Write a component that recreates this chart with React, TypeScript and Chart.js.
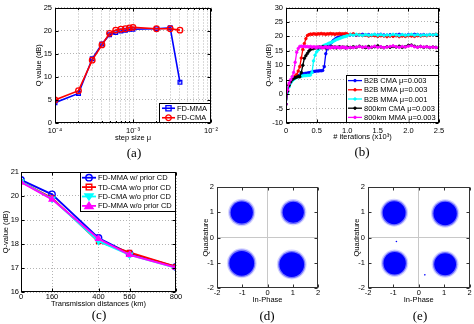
import React, { useEffect, useRef } from 'react';
import { Chart, registerables } from 'chart.js';

// ---------------- (a) Q value vs step size ----------------
const A_STEP = [0.0001, 0.0002, 0.0003, 0.0004, 0.0005, 0.0006, 0.0007, 0.0008, 0.0009, 0.001, 0.002, 0.003, 0.004];
const A_FD_MMA = [4.4, 6.4, 13.9, 17.1, 19.1, 19.6, 19.9, 20.1, 20.3, 20.3, 20.4, 20.6, 8.8];
const A_FD_CMA = [5.0, 7.0, 13.6, 16.9, 19.4, 20.1, 20.3, 20.4, 20.6, 20.7, 20.4, 20.4, 20.1];
const A_X_GRID = [0.0001, 0.0002, 0.0003, 0.0004, 0.0005, 0.0006, 0.0007, 0.0008, 0.0009,
  0.001, 0.002, 0.003, 0.004, 0.005, 0.006, 0.007, 0.008, 0.009, 0.01];
const A_X_LABELS = ['10⁻⁴', '', '', '', '', '', '', '', '', '10⁻³', '', '', '', '', '', '', '', '', '10⁻²'];

// ---------------- (b) Q value vs iterations ----------------
const B_ITER = [0, 0.025, 0.05, 0.075, 0.1, 0.125, 0.15, 0.175, 0.2, 0.225,
  0.25, 0.275, 0.3, 0.325, 0.35, 0.375, 0.4, 0.425, 0.45, 0.475,
  0.5, 0.525, 0.55, 0.575, 0.6, 0.625, 0.65, 0.675, 0.7, 0.725,
  0.75, 0.775, 0.8, 0.825, 0.85, 0.875, 0.9, 0.925, 0.95, 0.975,
  1.0,
  1.05, 1.1, 1.15, 1.2, 1.25, 1.3, 1.35, 1.4, 1.45, 1.5,
  1.55, 1.6, 1.65, 1.7, 1.75, 1.8, 1.85, 1.9, 1.95, 2.0,
  2.05, 2.1, 2.15, 2.2, 2.25, 2.3, 2.35, 2.4, 2.45, 2.5];
const B_B2B_CMA_003 = [-3.5, 1.0, 3.0, 4.2, 5.0, 5.5, 5.9, 6.2, 6.4, 6.6,
  6.8, 7.0, 7.1, 7.2, 7.3, 7.4, 7.5, 7.6, 7.8, 7.9,
  8.0, 8.0, 8.1, 8.1, 8.2, 9.5, 14.0, 15.8, 16.8, 17.5,
  18.0, 18.6, 19.0, 19.4, 19.6, 19.8, 20.0, 20.1, 20.3, 20.3,
  20.4,
  20.5, 20.6, 20.4, 20.5, 20.7, 20.5, 20.6, 20.4, 20.6, 20.5,
  20.7, 20.5, 20.4, 20.6, 20.5, 20.6, 20.7, 20.5, 20.4, 20.6,
  20.5, 20.7, 20.6, 20.5, 20.6, 20.4, 20.6, 20.5, 20.6, 20.5];
const B_B2B_MMA_003 = [-3.5, 1.2, 3.2, 4.5, 5.2, 5.8, 6.3, 6.8, 8.0, 9.5,
  12.5, 15.5, 17.5, 19.2, 20.3, 20.6, 20.8, 20.7, 20.9, 20.8,
  20.7, 20.9, 20.8, 21.0, 20.8, 20.9, 20.7, 20.9, 20.8, 21.0,
  20.8, 20.9, 20.7, 20.9, 20.8, 21.0, 20.8, 20.9, 20.8, 21.0,
  20.8,
  20.7, 20.9, 20.5, 20.6, 20.3, 20.4, 20.1, 20.3, 20.2, 20.0,
  20.2, 20.1, 19.9, 20.1, 20.0, 20.2, 19.9, 20.1, 20.0, 20.2,
  20.1, 20.0, 20.2, 20.1, 20.3, 20.2, 20.4, 20.5, 20.7, 20.9];
const B_B2B_MMA_001 = [-3.5, 0.5, 2.5, 3.8, 4.6, 5.1, 5.5, 5.8, 6.0, 6.1,
  6.2, 6.3, 6.4, 6.4, 6.5, 6.5, 6.6, 7.5, 11.5, 13.5,
  14.6, 15.3, 15.9, 16.3, 16.6, 16.9, 17.1, 17.3, 17.6, 17.8,
  18.0, 18.3, 18.6, 18.9, 19.1, 19.3, 19.5, 19.7, 19.9, 20.0,
  20.2,
  20.6, 20.4, 20.7, 20.5, 20.3, 20.6, 20.4, 20.5, 20.7, 20.4,
  20.6, 20.3, 20.5, 20.4, 20.7, 20.5, 20.3, 20.6, 20.4, 20.5,
  20.7, 20.4, 20.6, 20.3, 20.5, 20.4, 20.6, 20.5, 20.7, 20.6];
const B_800_CMA_003 = [-3.5, 1.0, 3.0, 4.2, 5.0, 5.4, 5.7, 5.9, 6.1, 6.0,
  7.5, 10.0, 12.4, 13.3, 14.1, 14.9, 15.5, 15.7, 15.9, 16.0,
  16.2, 16.0, 16.3, 16.1, 16.4, 16.2, 16.0, 16.3, 16.1, 16.2,
  16.4, 16.1, 16.3, 16.0, 16.2, 16.4, 16.1, 16.3, 16.2, 16.0,
  16.3,
  16.1, 16.4, 16.2, 16.6, 16.3, 16.1, 16.5, 16.2, 16.4, 16.7,
  16.3, 16.1, 16.4, 16.2, 16.5, 16.3, 16.6, 16.2, 16.4, 16.9,
  17.0, 16.6, 16.3, 16.5, 16.2, 16.4, 16.1, 16.3, 16.2, 16.0];
const B_800_MMA_003 = [-3.5, 1.5, 3.8, 5.0, 6.0, 7.5, 11.0, 14.5, 15.8, 16.5,
  16.6, 16.5, 16.6, 16.4, 16.5, 16.3, 16.5, 16.2, 16.4, 16.3,
  16.1, 16.4, 16.2, 16.3, 16.0, 16.2, 16.4, 16.1, 16.3, 16.0,
  16.2, 16.3, 16.1, 16.3, 16.2, 16.0, 16.2, 16.3, 16.1, 16.2,
  16.0,
  16.2, 16.1, 16.3, 16.5, 16.2, 16.4, 16.0, 16.3, 16.6, 16.2,
  16.4, 16.1, 16.3, 16.5, 16.7, 16.4, 16.2, 16.5, 16.3, 16.6,
  16.8, 16.4, 16.2, 16.5, 16.3, 16.4, 16.2, 16.3, 16.1, 16.2];
const B_LABELS = ['B2B CMA μ=0.003', 'B2B MMA μ=0.003', 'B2B MMA μ=0.001', '800km CMA μ=0.003', '800km MMA μ=0.003'];

// ---------------- (c) Q value vs distance ----------------
const C_DIST = [0, 160, 400, 560, 800];
const C_FD_MMA_CD = [20.67, 20.07, 18.25, 17.6, 17.05];
const C_TD_CMA_NOCD = [20.6, 19.92, 18.1, 17.65, 17.05];
const C_FD_CMA_NOCD = [20.6, 19.88, 18.12, 17.55, 17.0];
const C_FD_MMA_NOCD = [20.57, 19.86, 18.22, 17.55, 17.02];
const C_LABELS = ['FD-MMA w/ prior CD', 'TD-CMA w/o prior CD', 'FD-CMA w/o prior CD', 'FD-MMA w/o prior CD'];

// ---------------- (d), (e) constellations ----------------
const D_CX = [-1.02, 1.02, -1.02, 0.96];
const D_CY = [0.99, 1.0, -1.02, -1.07];
const D_SPREAD = [0.44, 0.42, 0.49, 0.49];
const E_CX = [-0.97, 1.04, -0.95, 1.04];
const E_CY = [0.98, 0.95, -1.02, -1.06];
const E_SPREAD = [0.45, 0.46, 0.44, 0.43];
const E_OUT_X = [0.24, -0.88];
const E_OUT_Y = [-1.48, -0.16];

// ---------------- styling ----------------
const SANS = "'Liberation Sans', Arial, Helvetica, sans-serif";
const SERIF = "'Liberation Serif', 'Times New Roman', serif";
const FS = 7.5;
const TICK_FONT = { family: SANS, size: FS };
const GRID_COLOR = '#b4b4b4';
const BLUE = '#0000ff', RED = '#ff0000', CYAN = '#00ffff', BLACK = '#000000', MAGENTA = '#ff00ff';

function drawMarker(ctx: CanvasRenderingContext2D, style: string, x: number, y: number, r: number,
  fill: string, stroke: string, lw: number, rot: number) {
  ctx.save();
  ctx.translate(x, y);
  ctx.rotate((rot || 0) * Math.PI / 180);
  ctx.beginPath();
  if (style === 'rect') {
    ctx.rect(-r, -r, 2 * r, 2 * r);
  } else if (style === 'triangle') {
    const h = r * 1.5;
    ctx.moveTo(0, -r * 1.1);
    ctx.lineTo(h * 0.85, r * 0.8);
    ctx.lineTo(-h * 0.85, r * 0.8);
    ctx.closePath();
  } else {
    ctx.arc(0, 0, r, 0, Math.PI * 2);
  }
  if (fill && fill !== 'transparent' && fill !== 'rgba(0,0,0,0)') { ctx.fillStyle = fill; ctx.fill(); }
  ctx.lineWidth = lw; ctx.strokeStyle = stroke; ctx.stroke();
  ctx.restore();
}

const framePlugin = {
  id: 'frame',
  afterDatasetsDraw(chart: any, _a: any, opts: any) {
    if (!opts || !opts.display) return;
    const { ctx, chartArea: a } = chart;
    const L = Math.round(a.left) + 0.5, T = Math.round(a.top) + 0.5;
    const R = Math.round(a.right) - 0.5, B = Math.round(a.bottom) - 0.5;
    ctx.save();
    ctx.strokeStyle = opts.color || '#000';
    ctx.lineWidth = 1;
    ctx.beginPath();
    const xs = chart.scales.x, ys = chart.scales.y;
    xs.ticks.forEach((t: any) => {
      const p = Math.round(xs.getPixelForValue(t.value)) + 0.5;
      const len = t.label ? 3 : 1.5;
      ctx.moveTo(p, B); ctx.lineTo(p, B - len);
      ctx.moveTo(p, T); ctx.lineTo(p, T + len);
    });
    ys.ticks.forEach((t: any) => {
      const p = Math.round(ys.getPixelForValue(t.value)) + 0.5;
      ctx.moveTo(L, p); ctx.lineTo(L + 3, p);
      ctx.moveTo(R, p); ctx.lineTo(R - 3, p);
    });
    ctx.stroke();
    ctx.strokeRect(L, T, R - L, B - T);
    ctx.restore();
  },
};

const insetLegend = {
  id: 'insetLegend',
  afterDraw(chart: any, _a: any, opts: any) {
    if (!opts || !opts.display) return;
    const { ctx, chartArea: a } = chart;
    ctx.save();
    ctx.font = `${FS}px ${SANS}`;
    const items = chart.data.datasets.filter((d: any) => d.label);
    const textW = Math.max(...items.map((d: any) => ctx.measureText(d.label).width));
    const w = Math.round(opts.padL + opts.lineLen + opts.gap + textW + opts.padR);
    const h = Math.round(opts.padY * 2 + items.length * opts.rowH);
    const x = Math.round(a.right) - w;
    const y = opts.corner === 'tr' ? Math.round(a.top) : Math.round(a.bottom) - h;
    ctx.fillStyle = '#fff';
    ctx.fillRect(x, y, w, h);
    ctx.strokeStyle = '#000';
    ctx.lineWidth = 1;
    ctx.strokeRect(x + 0.5, y + 0.5, w - 1, h - 1);
    items.forEach((d: any, i: number) => {
      const cy = y + opts.padY + (i + 0.5) * opts.rowH;
      const x0 = x + opts.padL, x1 = x0 + opts.lineLen;
      ctx.strokeStyle = d.borderColor;
      ctx.lineWidth = d.borderWidth;
      ctx.beginPath(); ctx.moveTo(x0, cy); ctx.lineTo(x1, cy); ctx.stroke();
      const r = typeof d.pointRadius === 'number' ? d.pointRadius : 2;
      drawMarker(ctx, d.pointStyle || 'circle', (x0 + x1) / 2, cy, r, d.pointBackgroundColor,
        d.pointBorderColor || d.borderColor, d.pointBorderWidth || 1, d.pointRotation || 0);
      ctx.fillStyle = '#000';
      ctx.textBaseline = 'middle';
      ctx.textAlign = 'left';
      ctx.fillText(d.label, x1 + opts.gap, cy + 0.5);
    });
    ctx.restore();
  },
};

Chart.register(...registerables, framePlugin, insetLegend);

function mkAxis(o: any) {
  const { size, title, titlePad, tickPad, grid, ticks, solid, ...rest } = o;
  return {
    ...rest,
    grid: { color: GRID_COLOR, lineWidth: 1, drawTicks: false, ...(grid || {}) },
    border: { display: false, dash: solid ? [] : [1, 2] },
    ticks: { font: TICK_FONT, color: '#000', padding: tickPad ?? 3, autoSkip: false, maxRotation: 0, minRotation: 0, ...(ticks || {}) },
    title: { display: true, text: title, font: TICK_FONT, color: '#000', padding: titlePad },
    afterFit: (s: any) => { if (s.isHorizontal()) s.height = size; else s.width = size; },
  };
}

function baseOptions(W: number, H: number, L: number, T: number, R: number, B: number,
  x: any, y: any, plugins: any) {
  return {
    responsive: false,
    animation: false,
    events: [],
    layout: { padding: { left: 0, top: T, right: W - R, bottom: 0 } },
    scales: { x: mkAxis({ ...x, size: H - B }), y: mkAxis({ ...y, size: L }) },
    plugins: { legend: { display: false }, tooltip: { enabled: false }, ...plugins },
  };
}

const pts = (xs: number[], ys: number[]) => xs.map((x, i) => ({ x, y: ys[i] }));

// ---------- panel (a) ----------
const A_W = 237, A_H = 146;
function configA(): any {
  const ds = (label: string, ys: number[], color: string, style: string, r: number, order: number) => ({
    label, data: pts(A_STEP, ys), borderColor: color, backgroundColor: color,
    pointBackgroundColor: 'rgba(0,0,0,0)', pointBorderColor: color, pointStyle: style,
    pointRadius: r, pointBorderWidth: 1.3, borderWidth: 1.6, order,
  });
  return {
    type: 'line',
    data: { datasets: [ds('FD-MMA', A_FD_MMA, BLUE, 'rect', 2.6, 1), ds('FD-CMA', A_FD_CMA, RED, 'circle', 2.8, 0)] },
    options: baseOptions(A_W, A_H, 55, 7, 211, 123,
      {
        type: 'logarithmic', min: 0.0001, max: 0.01, title: 'step size μ', titlePad: { bottom: 3.5 },
        afterBuildTicks: (s: any) => { s.ticks = A_X_GRID.map((v) => ({ value: v })); },
        ticks: { callback: (_v: any, i: number) => A_X_LABELS[i] },
      },
      { min: 0, max: 25, ticks: { stepSize: 5 }, title: 'Q value (dB)', titlePad: { top: 34.5 } },
      { frame: { display: true }, insetLegend: { display: true, corner: 'br', padL: 3, lineLen: 13, gap: 2, padR: 4, padY: 0.5, rowH: 9.5 } }),
  };
}

// ---------- panel (b) ----------
const B_W = 234, B_H = 146;
function configB(): any {
  const series = [B_B2B_CMA_003, B_B2B_MMA_003, B_B2B_MMA_001, B_800_CMA_003, B_800_MMA_003];
  const colors = [BLUE, RED, CYAN, BLACK, MAGENTA];
  return {
    type: 'line',
    data: {
      datasets: series.map((ys, i) => ({
        label: B_LABELS[i], data: pts(B_ITER, ys), borderColor: colors[i], backgroundColor: colors[i],
        pointBackgroundColor: colors[i], pointBorderColor: colors[i], pointStyle: 'circle',
        pointRadius: 1.3, pointBorderWidth: 0.8, borderWidth: 1.3, order: series.length - i,
      })),
    },
    options: baseOptions(B_W, B_H, 46, 6, 199, 123,
      { type: 'linear', min: 0, max: 2.5, ticks: { stepSize: 0.5 }, title: '# iterations (x10³)', titlePad: { bottom: 4.5 } },
      { min: -10, max: 30, ticks: { stepSize: 5 }, title: 'Q-value (dB)', titlePad: { top: 24.5 } },
      { frame: { display: true }, insetLegend: { display: true, corner: 'br', padL: 2, lineLen: 14, gap: 2, padR: 3, padY: 1, rowH: 9.2 } }),
  };
}

// ---------- panel (c) ----------
const C_W = 190, C_H = 150;
function configC(): any {
  const series = [C_FD_MMA_CD, C_TD_CMA_NOCD, C_FD_CMA_NOCD, C_FD_MMA_NOCD];
  const colors = [BLUE, RED, CYAN, MAGENTA];
  const styles = ['circle', 'rect', 'triangle', 'triangle'];
  const rots = [0, 0, 180, 0];
  const fills = ['rgba(0,0,0,0)', 'rgba(0,0,0,0)', CYAN, MAGENTA];
  const radii = [3.2, 2.8, 3.2, 3.2];
  return {
    type: 'line',
    data: {
      datasets: series.map((ys, i) => ({
        label: C_LABELS[i], data: pts(C_DIST, ys), borderColor: colors[i], backgroundColor: colors[i],
        pointBackgroundColor: fills[i], pointBorderColor: colors[i], pointStyle: styles[i], pointRotation: rots[i],
        pointRadius: radii[i], pointBorderWidth: 1.4, borderWidth: 1.8, order: series.length - i,
      })),
    },
    options: baseOptions(C_W, C_H, 21, 12, 176, 132,
      {
        type: 'linear', min: 0, max: 800, title: 'Transmission distances (km)', titlePad: { bottom: 2 }, tickPad: 0.5,
        afterBuildTicks: (s: any) => { s.ticks = C_DIST.map((v) => ({ value: v })); },
      },
      { min: 16, max: 21, ticks: { stepSize: 1 }, title: 'Q-value (dB)', titlePad: { top: 1 }, tickPad: 2 },
      { frame: { display: true }, insetLegend: { display: true, corner: 'tr', padL: 2, lineLen: 14, gap: 2, padR: 4, padY: 1, rowH: 9.4 } }),
  };
}

// ---------- panels (d), (e) ----------
const radiusFrom = (spread: number[], extra: number) => (c: any) => {
  const s = c.chart.scales.x;
  if (!s) return 0;
  const v = (spread[c.dataIndex ?? 0] ?? spread[0]) + extra;
  return Math.abs(s.getPixelForValue(v) - s.getPixelForValue(0));
};

function configConst(cx: number[], cy: number[], spread: number[], ox: number[], oy: number[],
  W: number, L: number, R: number, ytitlePad: number): any {
  const zeroGrid = (c: any) => (c.tick && c.tick.value === 0 ? '#c8c8c8' : 'rgba(0,0,0,0)');
  return {
    type: 'scatter',
    data: {
      datasets: [
        { data: pts(cx, cy), pointRadius: radiusFrom(spread, 0), pointBackgroundColor: '#0000ff', pointBorderWidth: 0, pointBorderColor: '#0000ff', order: 0 },
        { data: pts(cx, cy), pointRadius: radiusFrom(spread, 0.05), pointBackgroundColor: 'rgba(20,20,255,0.5)', pointBorderWidth: 0, pointBorderColor: 'rgba(0,0,0,0)', order: 1 },
        { data: pts(cx, cy), pointRadius: radiusFrom(spread, 0.1), pointBackgroundColor: 'rgba(40,40,255,0.2)', pointBorderWidth: 0, pointBorderColor: 'rgba(0,0,0,0)', order: 2 },
        { data: pts(ox, oy), pointRadius: 0.8, pointBackgroundColor: '#0000ff', pointBorderWidth: 0, order: 0 },
      ],
    },
    options: baseOptions(W, 130, L, 12, R, 113,
      { type: 'linear', min: -2, max: 2, ticks: { stepSize: 1 }, grid: { color: zeroGrid }, solid: true, title: 'In-Phase', titlePad: { bottom: 0.5 }, tickPad: 0.5 },
      { type: 'linear', min: -2, max: 2, ticks: { stepSize: 1 }, grid: { color: zeroGrid }, solid: true, title: 'Quadrature', titlePad: { top: ytitlePad } },
      { frame: { display: true, color: '#333' } }),
  };
}

function ChartBox({ left, top, width, height, build }: any) {
  const ref = useRef<HTMLCanvasElement>(null);
  useEffect(() => {
    const chart = new Chart(ref.current as HTMLCanvasElement, build());
    return () => chart.destroy();
  }, []);
  return (
    <canvas ref={ref} width={width} height={height}
      style={{ position: 'absolute', left, top, width, height, display: 'block' }} />
  );
}

function Caption({ x, y, text }: any) {
  return (
    <div style={{
      position: 'absolute', left: x, top: y, transform: 'translate(-50%, -50%)',
      fontFamily: SERIF, fontSize: 13, lineHeight: '13px', color: '#000', whiteSpace: 'nowrap',
    }}>{text}</div>
  );
}

export default function App() {
  return (
    <div style={{ position: 'absolute', left: 0, top: 0, width: 474, height: 324, background: '#fff', overflow: 'hidden' }}>
      <ChartBox left={0} top={0} width={A_W} height={A_H} build={configA} />
      <ChartBox left={240} top={0} width={B_W} height={B_H} build={configB} />
      <ChartBox left={0} top={160} width={C_W} height={C_H} build={configC} />
      <ChartBox left={195} top={175} width={130} height={130}
        build={() => configConst(D_CX, D_CY, D_SPREAD, [], [], 130, 22, 123, 6)} />
      <ChartBox left={345} top={175} width={129} height={130}
        build={() => configConst(E_CX, E_CY, E_SPREAD, E_OUT_X, E_OUT_Y, 129, 23, 124.5, 7.2)} />
      <Caption x={134} y={152} text="(a)" />
      <Caption x={362} y={151} text="(b)" />
      <Caption x={99} y={314} text="(c)" />
      <Caption x={267} y={315} text="(d)" />
      <Caption x={420} y={315} text="(e)" />
    </div>
  );
}
